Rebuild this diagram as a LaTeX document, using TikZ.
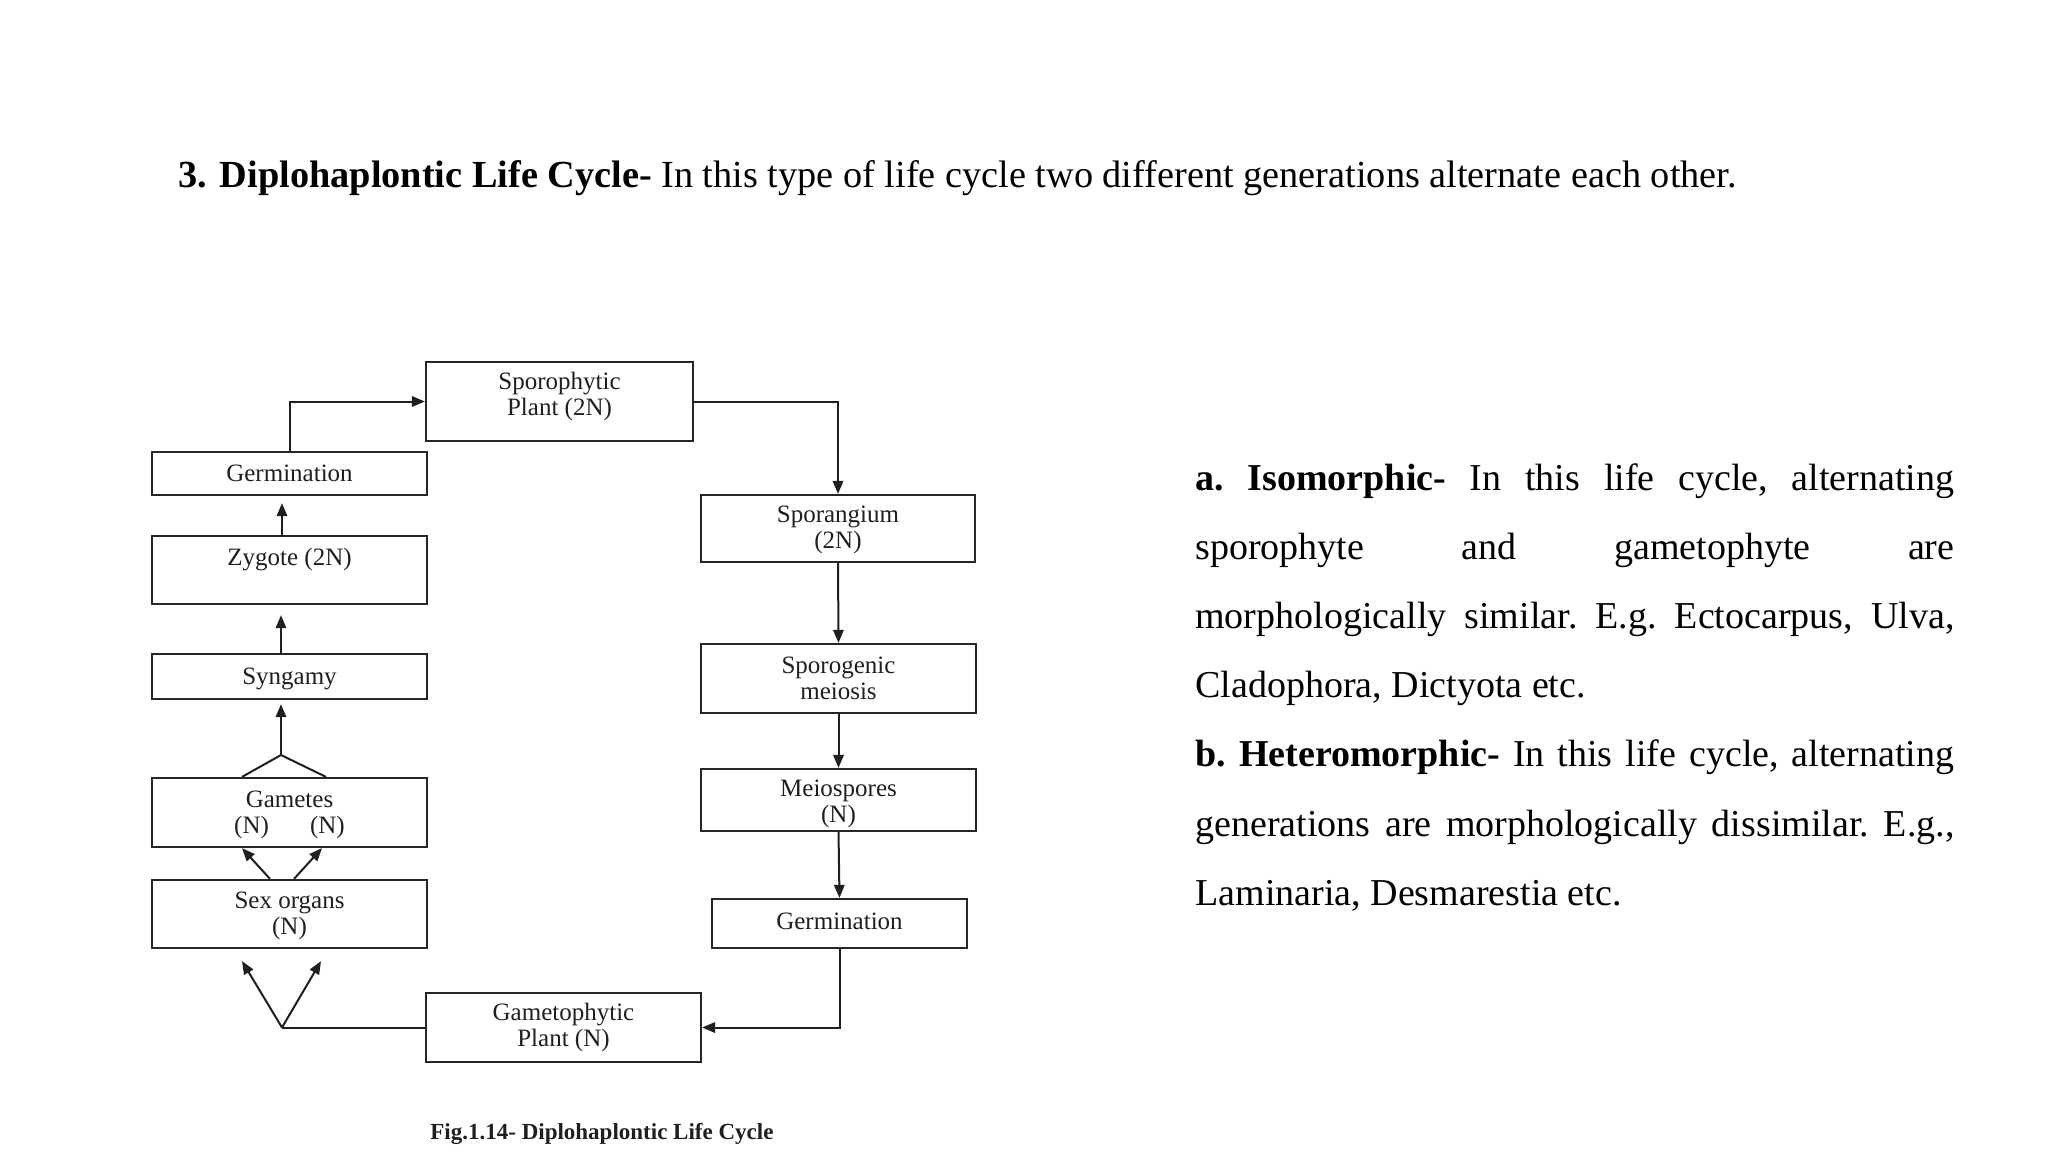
\documentclass[tikz,border=0pt]{standalone}
\usepackage{fontspec}
\setmainfont{Liberation Serif}
\usetikzlibrary{arrows.meta,calc}
\newcommand{\liftx}[2]{\raisebox{#1}[\height][\depth]{\parbox{110pt}{\centering #2}}}
\begin{document}
\begin{tikzpicture}[x=0.5pt,y=-0.5pt,
  box/.style={draw=black!85,line width=1.1pt,inner sep=0pt,align=center,
    font=\fontsize{12.5}{13}\selectfont,text=black!88},
  conn/.style={draw=black!88,line width=1pt},
  arr/.style={conn,-{Triangle[length=6.5pt,width=5.2pt]}}]
\useasboundingbox[fill=white] (0,0) rectangle (2048,1152);

% title
\node[anchor=base west,inner sep=0pt,font=\fontsize{19.15}{23}\selectfont] (title) at (178,187)
  {\textbf{3. Diplohaplontic Life Cycle-} In this type of life cycle two different generations alternate each other.};

% boxes, left column
\node[box,minimum width=133.5pt,minimum height=39.5pt] (spo) at (559.5,401.5) {\liftx{2.5pt}{Sporophytic\\Plant (2N)}};
\node[box,minimum width=137.5pt,minimum height=21.5pt] (germ1) at (289.5,473.5) {Germination};
\node[box,minimum width=137.5pt,minimum height=34pt] (zyg) at (289.5,570) {Zygote (2N)\\~};
\node[box,minimum width=137.5pt,minimum height=22.5pt] (syn) at (289.5,676.5) {\liftx{-1pt}{Syngamy}};
\node[box,minimum width=137.5pt,minimum height=34.5pt] (gam) at (289.5,812.5) {\liftx{-1pt}{Gametes\\(N)\hspace{20.6pt}(N)}};
\node[box,minimum width=137.5pt,minimum height=34pt] (sex) at (289.5,914) {\liftx{-1pt}{Sex organs\\(N)}};
\node[box,minimum width=137.5pt,minimum height=34.5pt] (gph) at (563.5,1027.5) {Gametophytic\\Plant (N)};

% boxes, right column
\node[box,minimum width=137pt,minimum height=33.5pt] (spg) at (838,528.5) {\liftx{-0.5pt}{Sporangium\\(2N)}};
\node[box,minimum width=137.5pt,minimum height=34.5pt] (meio) at (838.5,678.5) {Sporogenic\\meiosis};
\node[box,minimum width=137.5pt,minimum height=31pt] (msp) at (838.5,800) {\liftx{-2pt}{Meiospores\\(N)}};
\node[box,minimum width=127.5pt,minimum height=24.5pt] (germ2) at (839.5,923.5) {\liftx{1pt}{Germination}};

% connectors, left column
\draw[arr] (germ1.north) |- (spo.west);
\draw[arr] ([xshift=-3.75pt]zyg.north) -- ([xshift=-3.75pt,yshift=-3.5pt]germ1.south);
\draw[arr] ([xshift=-4.25pt]syn.north) -- ([xshift=-4.25pt,yshift=-5pt]zyg.south);
\coordinate (fk) at (281,755);
\draw[conn] ([xshift=-23.75pt]gam.north) -- (fk) -- ([xshift=18.25pt]gam.north);
\draw[arr] (fk) -- ([xshift=-4.25pt,yshift=-2pt]syn.south);
\draw[arr] ([xshift=-9.75pt]sex.north) -- ([xshift=-23.75pt]gam.south);
\draw[arr] ([xshift=2.25pt]sex.north) -- ([xshift=16.25pt]gam.south);
\coordinate (vx) at (282,1027.5);
\draw[arr] (vx) -- ([xshift=-23.75pt,yshift=-6pt]sex.south);
\draw[arr] (vx) -- ([xshift=15.75pt,yshift=-6pt]sex.south);
\draw[conn] (vx) -- (gph.west);

% connectors, right column
\draw[arr] (spo.east) -| (spg.north);
\draw[arr] (spg.south) -- (meio.north);
\draw[arr] (meio.south) -- (msp.north);
\draw[arr] (msp.south) -- (germ2.north);
\draw[arr] (germ2.south) |- (gph.east);

% caption
\node[anchor=base west,inner sep=0pt,font=\fontsize{11.5}{13}\selectfont\bfseries,text=black!88] (cap) at (430,1139)
  {Fig.1.14- Diplohaplontic Life Cycle};

% right paragraph
\node[anchor=base west,inner sep=0pt] (para) at (1195,490)
  {\parbox[t]{379.5pt}{\fontsize{19}{34.6}\selectfont\frenchspacing\parindent=0pt\parskip=0pt
  \textbf{a. Isomorphic-} In this life cycle, alternating\linebreak
  sporophyte and gametophyte are\linebreak
  morphologically similar. E.g. Ectocarpus, Ulva,\linebreak
  Cladophora, Dictyota etc.\par
  \textbf{b. Heteromorphic-} In this life cycle, alternating\linebreak
  generations are morphologically dissimilar. E.g.,\linebreak
  Laminaria, Desmarestia etc.}};
\end{tikzpicture}
\end{document}
